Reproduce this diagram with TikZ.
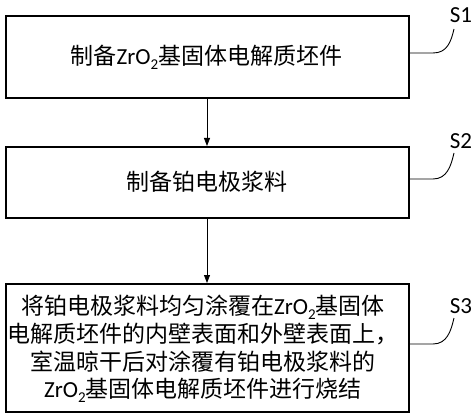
\documentclass[tikz,border=0pt]{standalone}
\usepackage{fontspec}
\setmainfont{Noto Sans CJK SC}
\newfontfamily\latfont{Carlito}
\newcommand{\zro}{{\latfont ZrO\raisebox{-5pt}{\fontsize{15}{15}\selectfont 2}}}
\usetikzlibrary{arrows.meta}
\begin{document}
\begin{tikzpicture}[x=1pt,y=-1pt,
  stepbox/.style={draw,line width=1.6pt,inner sep=0pt,anchor=north west},
  steptext/.style={font=\fontsize{23}{27.7}\selectfont,align=center},
  slabel/.style={font=\latfont\fontsize{23}{24}\selectfont},
  flow/.style={line width=0.8pt,-{Triangle[length=8pt,width=6pt]}},
  lead/.style={line width=0.9pt}]
\useasboundingbox (0,0) rectangle (474,417);
\node[stepbox,minimum width=403pt,minimum height=82pt] (b1) at (5,15) {};
\node[stepbox,minimum width=403pt,minimum height=71pt] (b2) at (5,146) {};
\node[stepbox,minimum width=403pt,minimum height=128pt] (b3) at (5,283) {};
\node[steptext] (t1) at (206.5,57) {制备\zro 基固体电解质坯件};
\node[steptext] (t2) at (206.5,182) {制备铂电极浆料};
\node[steptext] (t3) at (203,349) {将铂电极浆料均匀涂覆在\zro 基固体\\电解质坯件的内壁表面和外壁表面上，\\室温晾干后对涂覆有铂电极浆料的\\\zro 基固体电解质坯件进行烧结};
\draw[flow] (b1.south -| 207,0) -- (b2.north -| 207,0);
\draw[flow] (b2.south -| 207,0) -- (b3.north -| 207,0);
\node[slabel] (s1) at (461,15) {S1};
\node[slabel] (s2) at (461,141) {S2};
\node[slabel] (s3) at (461,306) {S3};
\coordinate (l1) at (408,53);
\coordinate (l2) at (408,179);
\coordinate (l3) at (408,344);
\draw[lead] (l1) -- (433,53) .. controls (447,53) and (451,42) .. (454,29);
\draw[lead] (l2) -- (433,179) .. controls (447,179) and (451,166) .. (454,153);
\draw[lead] (l3) -- (433,344) .. controls (447,344) and (451,331) .. (454,318);
\end{tikzpicture}
\end{document}
